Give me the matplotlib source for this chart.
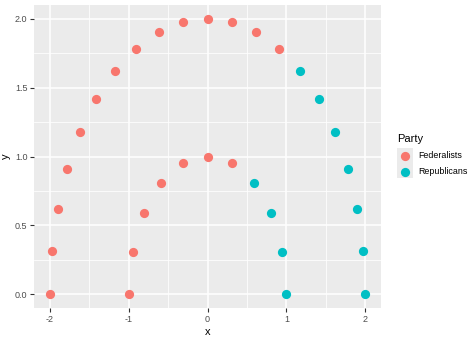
import matplotlib.pyplot as plt
from matplotlib.patches import Rectangle

plt.rcParams['font.family'] = ['Liberation Sans', 'DejaVu Sans']

# points on the two arcs, split by party
fed_x = [-2.0, -1.975, -1.902, -1.782, -1.618, -1.414, -1.176, -0.908, -0.618, -0.313,
         0.0, 0.313, 0.618, 0.908,
         -1.0, -0.951, -0.809, -0.588, -0.309, 0.0, 0.309]
fed_y = [0.0, 0.313, 0.618, 0.908, 1.176, 1.414, 1.618, 1.782, 1.902, 1.975,
         2.0, 1.975, 1.902, 1.782,
         0.0, 0.309, 0.588, 0.809, 0.951, 1.0, 0.951]
rep_x = [1.176, 1.414, 1.618, 1.782, 1.902, 1.975, 2.0,
         0.588, 0.809, 0.951, 1.0]
rep_y = [1.618, 1.414, 1.176, 0.908, 0.618, 0.313, 0.0,
         0.809, 0.588, 0.309, 0.0]

parties = ['Federalists', 'Republicans']
colors = ['#F8766D', '#00BFC4']

xticks = [-2, -1, 0, 1, 2]
yticks = [0.0, 0.5, 1.0, 1.5, 2.0]

fig = plt.figure(figsize=(4.74, 3.38), dpi=100)
ax = fig.add_axes([34 / 474, 30 / 338, 347 / 474, 303 / 338])
ax.set_facecolor('#EBEBEB')

ax.scatter(fed_x, fed_y, s=44, color=colors[0], label=parties[0], zorder=3, linewidths=0)
ax.scatter(rep_x, rep_y, s=44, color=colors[1], label=parties[1], zorder=3, linewidths=0)

ax.set_xlim(-2.2, 2.2)
ax.set_ylim(-0.1, 2.1)
ax.set_xticks(xticks)
ax.set_xticklabels([str(t) for t in xticks])
ax.set_yticks(yticks)
ax.set_yticklabels([f'{t:.1f}' for t in yticks])
ax.set_xticks([-1.5, -0.5, 0.5, 1.5], minor=True)
ax.set_yticks([0.25, 0.75, 1.25, 1.75], minor=True)

ax.grid(True, which='major', color='white', linewidth=1.1, zorder=1)
ax.grid(True, which='minor', color='white', linewidth=0.55, zorder=1)
ax.set_axisbelow(True)
for s in ax.spines.values():
    s.set_visible(False)

ax.tick_params(which='major', length=2.7, width=0.8, color='#333333',
               labelsize=6.5, labelcolor='#4D4D4D', pad=2)
ax.tick_params(which='minor', length=0)

ax.set_xlabel('x', fontsize=8)
ax.set_ylabel('y', fontsize=8)
ax.xaxis.set_label_coords(0.5, -0.063)
ax.yaxis.set_label_coords(-0.066, 0.5)

# legend key background
fig.patches.append(Rectangle((397 / 474, 1 - 178 / 338), 16 / 474, 30 / 338,
                             transform=fig.transFigure, facecolor='#EBEBEB',
                             edgecolor='none', zorder=0))
leg = fig.legend(loc='upper left', bbox_to_anchor=(397 / 474, 1 - 134 / 338),
                 frameon=False, title='Party', fontsize=6.4, title_fontsize=8,
                 handlelength=1.8, handletextpad=0.55, labelspacing=0.8,
                 borderpad=0, borderaxespad=0)
leg._legend_box.align = 'left'

fig.savefig('out.png', dpi=100)
